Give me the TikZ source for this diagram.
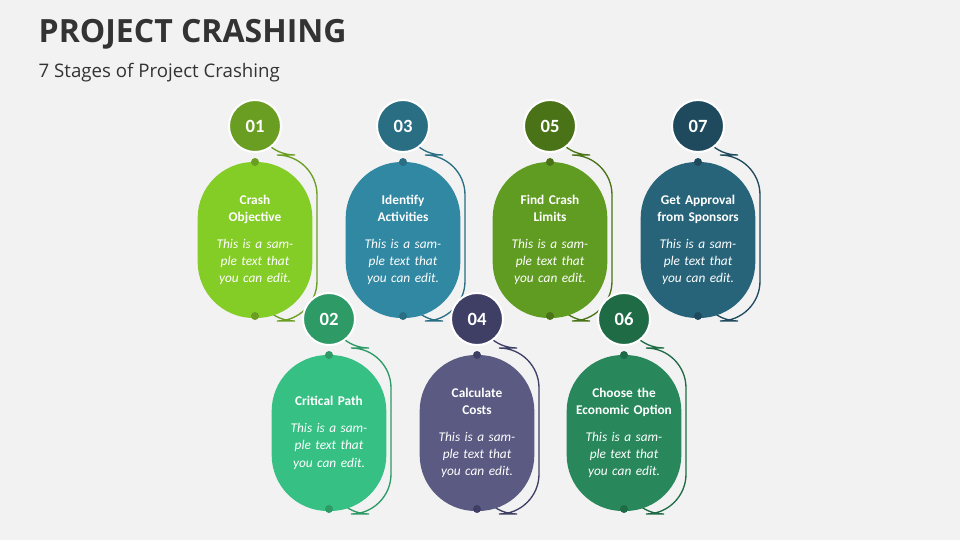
\documentclass[tikz,border=0pt]{standalone}
\usepackage{fontspec}
\setmainfont{Carlito}
\newfontfamily\titlefont{Open Sans}
\usetikzlibrary{positioning}

\definecolor{dkA}{HTML}{6A9E23}\definecolor{ltA}{HTML}{84CC26}
\definecolor{dkB}{HTML}{2E9A66}\definecolor{ltB}{HTML}{36C084}
\definecolor{dkC}{HTML}{2A6E84}\definecolor{ltC}{HTML}{3088A2}
\definecolor{dkD}{HTML}{3F3F66}\definecolor{ltD}{HTML}{5A5A82}
\definecolor{dkE}{HTML}{4A7216}\definecolor{ltE}{HTML}{609C22}
\definecolor{dkF}{HTML}{1F6B45}\definecolor{ltF}{HTML}{28885C}
\definecolor{dkG}{HTML}{1F4A5E}\definecolor{ltG}{HTML}{27647A}

\begin{document}
\begin{tikzpicture}[x=0.75pt, y=-0.75pt]
  \tikzset{numcircle/.style={circle, draw=white, line width=1.5pt, minimum size=39pt, text=white, font=\bfseries\fontsize{14}{14}\selectfont}}
  \tikzset{stagebody/.style={rectangle, rounded corners=42pt, minimum width=86pt, minimum height=117pt, text=white, text width=78pt, align=center, font=\fontsize{10}{13}\selectfont}}
  \tikzset{outline/.style={line width=1pt, rounded corners=30pt}}

  \fill[gray!10] (0,0) rectangle (960,540);
  \node[anchor=west, font=\titlefont\bfseries\fontsize{24}{24}\selectfont, text=black!80] (title) at (34,34) {PROJECT CRASHING};
  \node[anchor=west, font=\titlefont\fontsize{14}{14}\selectfont, text=black!80] (subtitle) at (34,73) {7 Stages of Project Crashing};

  \foreach \x/\y/\num/\head/\dk/\lt in {255/126/01/{Crash\\Objective}/dkA/ltA, 329/319/02/{Critical Path}/dkB/ltB, 403/126/03/{Identify\\Activities}/dkC/ltC, 477/319/04/{Calculate\\Costs}/dkD/ltD, 550/126/05/{Find Crash\\Limits}/dkE/ltE, 624/319/06/{Choose the\\Economic Option}/dkF/ltF, 698/126/07/{Get Approval\\from Sponsors}/dkG/ltG}{
    \draw[outline, draw=\dk] (\x,\y+25) -- (\x,\y+29) -- (\x+62,\y+29) -- (\x+62,\y+195) -- (\x,\y+195) -- (\x,\y+190);
    \node[stagebody, fill=\lt] (nb\num) at (\x,\y+114) {\textbf{\head}\\[7pt]\textit{This is a sample text that you can edit.}};
    \node[numcircle, fill=\dk] (nc\num) at (\x,\y) {\num};
    \fill[\dk] (\x,\y+36) circle (3pt);
    \fill[\dk] (\x,\y+190) circle (3pt);
  }
\end{tikzpicture}
\end{document}
